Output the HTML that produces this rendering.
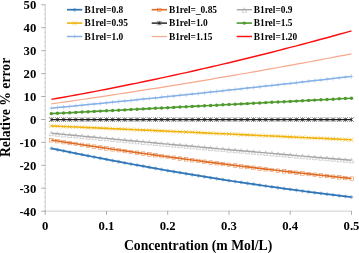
<!DOCTYPE html>
<html><head><meta charset="utf-8"><title>Relative % error vs Concentration</title>
<style>
html,body{margin:0;padding:0;background:#fff;}
svg{display:block}
text{font-family:"Liberation Serif","DejaVu Serif",serif;font-weight:bold;fill:#000}
.tk{font-size:12.7px}
.ti{font-size:13.7px}
.lg{font-size:9.4px}
</style></head><body>
<svg width="359" height="253" viewBox="0 0 359 253">
<rect width="359" height="253" fill="#fff"/>
<path d="M45.2 4.8V211.6M44.7 211.1H351.5" stroke="#cfcfcf" stroke-width="1" fill="none"/><path d="M41.2 4.8H45.6M41.2 27.7H45.6M41.2 50.7H45.6M41.2 73.6H45.6M41.2 96.5H45.6M41.2 119.5H45.6M41.2 142.4H45.6M41.2 165.3H45.6M41.2 188.2H45.6M41.2 211.2H45.6M45.2 210.8V214.9M106.5 210.8V214.9M167.7 210.8V214.9M229.0 210.8V214.9M290.2 210.8V214.9M351.5 210.8V214.9" stroke="#9c9c9c" stroke-width="0.8" fill="none"/><path d="M44.4 9.4H45.7M44.4 14.0H45.7M44.4 18.6H45.7M44.4 23.1H45.7M44.4 32.3H45.7M44.4 36.9H45.7M44.4 41.5H45.7M44.4 46.1H45.7M44.4 55.2H45.7M44.4 59.8H45.7M44.4 64.4H45.7M44.4 69.0H45.7M44.4 78.2H45.7M44.4 82.8H45.7M44.4 87.3H45.7M44.4 91.9H45.7M44.4 101.1H45.7M44.4 105.7H45.7M44.4 110.3H45.7M44.4 114.9H45.7M44.4 124.0H45.7M44.4 128.6H45.7M44.4 133.2H45.7M44.4 137.8H45.7M44.4 147.0H45.7M44.4 151.6H45.7M44.4 156.1H45.7M44.4 160.7H45.7M44.4 169.9H45.7M44.4 174.5H45.7M44.4 179.1H45.7M44.4 183.7H45.7M44.4 192.8H45.7M44.4 197.4H45.7M44.4 202.0H45.7M44.4 206.6H45.7" stroke="#bcbcbc" stroke-width="0.8" fill="none"/>
<polyline points="51.3,148.4 57.5,149.7 63.6,150.9 69.7,152.2 75.8,153.4 82.0,154.6 88.1,155.8 94.2,157.0 100.3,158.2 106.5,159.4 112.6,160.6 118.7,161.7 124.8,162.9 131.0,164.0 137.1,165.1 143.2,166.2 149.3,167.3 155.5,168.4 161.6,169.5 167.7,170.6 173.8,171.6 180.0,172.6 186.1,173.7 192.2,174.7 198.4,175.7 204.5,176.7 210.6,177.7 216.7,178.6 222.9,179.6 229.0,180.6 235.1,181.5 241.2,182.4 247.4,183.3 253.5,184.2 259.6,185.1 265.7,186.0 271.9,186.9 278.0,187.7 284.1,188.6 290.2,189.4 296.4,190.2 302.5,191.0 308.6,191.8 314.7,192.6 320.9,193.4 327.0,194.2 333.1,194.9 339.2,195.7 345.4,196.4 351.5,197.1" fill="none" stroke="#2f76b9" stroke-width="1.7" stroke-linejoin="round"/><path d="M49.1 148.4L51.3 146.2L53.5 148.4L51.3 150.6Z" fill="#2f76b9" fill-opacity="0.45"/><path d="M55.3 149.7L57.5 147.5L59.7 149.7L57.5 151.9Z" fill="#2f76b9" fill-opacity="0.45"/><path d="M61.4 150.9L63.6 148.7L65.8 150.9L63.6 153.1Z" fill="#2f76b9" fill-opacity="0.45"/><path d="M67.5 152.2L69.7 150.0L71.9 152.2L69.7 154.4Z" fill="#2f76b9" fill-opacity="0.45"/><path d="M73.6 153.4L75.8 151.2L78.0 153.4L75.8 155.6Z" fill="#2f76b9" fill-opacity="0.45"/><path d="M79.8 154.6L82.0 152.4L84.2 154.6L82.0 156.8Z" fill="#2f76b9" fill-opacity="0.45"/><path d="M85.9 155.8L88.1 153.6L90.3 155.8L88.1 158.0Z" fill="#2f76b9" fill-opacity="0.45"/><path d="M92.0 157.0L94.2 154.8L96.4 157.0L94.2 159.2Z" fill="#2f76b9" fill-opacity="0.45"/><path d="M98.1 158.2L100.3 156.0L102.5 158.2L100.3 160.4Z" fill="#2f76b9" fill-opacity="0.45"/><path d="M104.3 159.4L106.5 157.2L108.7 159.4L106.5 161.6Z" fill="#2f76b9" fill-opacity="0.45"/><path d="M110.4 160.6L112.6 158.4L114.8 160.6L112.6 162.8Z" fill="#2f76b9" fill-opacity="0.45"/><path d="M116.5 161.7L118.7 159.5L120.9 161.7L118.7 163.9Z" fill="#2f76b9" fill-opacity="0.45"/><path d="M122.6 162.9L124.8 160.7L127.0 162.9L124.8 165.1Z" fill="#2f76b9" fill-opacity="0.45"/><path d="M128.8 164.0L131.0 161.8L133.2 164.0L131.0 166.2Z" fill="#2f76b9" fill-opacity="0.45"/><path d="M134.9 165.1L137.1 162.9L139.3 165.1L137.1 167.3Z" fill="#2f76b9" fill-opacity="0.45"/><path d="M141.0 166.2L143.2 164.0L145.4 166.2L143.2 168.4Z" fill="#2f76b9" fill-opacity="0.45"/><path d="M147.1 167.3L149.3 165.1L151.5 167.3L149.3 169.5Z" fill="#2f76b9" fill-opacity="0.45"/><path d="M153.3 168.4L155.5 166.2L157.7 168.4L155.5 170.6Z" fill="#2f76b9" fill-opacity="0.45"/><path d="M159.4 169.5L161.6 167.3L163.8 169.5L161.6 171.7Z" fill="#2f76b9" fill-opacity="0.45"/><path d="M165.5 170.6L167.7 168.4L169.9 170.6L167.7 172.8Z" fill="#2f76b9" fill-opacity="0.45"/><path d="M171.6 171.6L173.8 169.4L176.0 171.6L173.8 173.8Z" fill="#2f76b9" fill-opacity="0.45"/><path d="M177.8 172.6L180.0 170.4L182.2 172.6L180.0 174.8Z" fill="#2f76b9" fill-opacity="0.45"/><path d="M183.9 173.7L186.1 171.5L188.3 173.7L186.1 175.9Z" fill="#2f76b9" fill-opacity="0.45"/><path d="M190.0 174.7L192.2 172.5L194.4 174.7L192.2 176.9Z" fill="#2f76b9" fill-opacity="0.45"/><path d="M196.2 175.7L198.4 173.5L200.6 175.7L198.4 177.9Z" fill="#2f76b9" fill-opacity="0.45"/><path d="M202.3 176.7L204.5 174.5L206.7 176.7L204.5 178.9Z" fill="#2f76b9" fill-opacity="0.45"/><path d="M208.4 177.7L210.6 175.5L212.8 177.7L210.6 179.9Z" fill="#2f76b9" fill-opacity="0.45"/><path d="M214.5 178.6L216.7 176.4L218.9 178.6L216.7 180.8Z" fill="#2f76b9" fill-opacity="0.45"/><path d="M220.7 179.6L222.9 177.4L225.1 179.6L222.9 181.8Z" fill="#2f76b9" fill-opacity="0.45"/><path d="M226.8 180.6L229.0 178.4L231.2 180.6L229.0 182.8Z" fill="#2f76b9" fill-opacity="0.45"/><path d="M232.9 181.5L235.1 179.3L237.3 181.5L235.1 183.7Z" fill="#2f76b9" fill-opacity="0.45"/><path d="M239.0 182.4L241.2 180.2L243.4 182.4L241.2 184.6Z" fill="#2f76b9" fill-opacity="0.45"/><path d="M245.2 183.3L247.4 181.1L249.6 183.3L247.4 185.5Z" fill="#2f76b9" fill-opacity="0.45"/><path d="M251.3 184.2L253.5 182.0L255.7 184.2L253.5 186.4Z" fill="#2f76b9" fill-opacity="0.45"/><path d="M257.4 185.1L259.6 182.9L261.8 185.1L259.6 187.3Z" fill="#2f76b9" fill-opacity="0.45"/><path d="M263.5 186.0L265.7 183.8L267.9 186.0L265.7 188.2Z" fill="#2f76b9" fill-opacity="0.45"/><path d="M269.7 186.9L271.9 184.7L274.1 186.9L271.9 189.1Z" fill="#2f76b9" fill-opacity="0.45"/><path d="M275.8 187.7L278.0 185.5L280.2 187.7L278.0 189.9Z" fill="#2f76b9" fill-opacity="0.45"/><path d="M281.9 188.6L284.1 186.4L286.3 188.6L284.1 190.8Z" fill="#2f76b9" fill-opacity="0.45"/><path d="M288.0 189.4L290.2 187.2L292.4 189.4L290.2 191.6Z" fill="#2f76b9" fill-opacity="0.45"/><path d="M294.2 190.2L296.4 188.0L298.6 190.2L296.4 192.4Z" fill="#2f76b9" fill-opacity="0.45"/><path d="M300.3 191.0L302.5 188.8L304.7 191.0L302.5 193.2Z" fill="#2f76b9" fill-opacity="0.45"/><path d="M306.4 191.8L308.6 189.6L310.8 191.8L308.6 194.0Z" fill="#2f76b9" fill-opacity="0.45"/><path d="M312.5 192.6L314.7 190.4L316.9 192.6L314.7 194.8Z" fill="#2f76b9" fill-opacity="0.45"/><path d="M318.7 193.4L320.9 191.2L323.1 193.4L320.9 195.6Z" fill="#2f76b9" fill-opacity="0.45"/><path d="M324.8 194.2L327.0 192.0L329.2 194.2L327.0 196.4Z" fill="#2f76b9" fill-opacity="0.45"/><path d="M330.9 194.9L333.1 192.7L335.3 194.9L333.1 197.1Z" fill="#2f76b9" fill-opacity="0.45"/><path d="M337.0 195.7L339.2 193.5L341.4 195.7L339.2 197.9Z" fill="#2f76b9" fill-opacity="0.45"/><path d="M343.2 196.4L345.4 194.2L347.6 196.4L345.4 198.6Z" fill="#2f76b9" fill-opacity="0.45"/><path d="M349.3 197.1L351.5 194.9L353.7 197.1L351.5 199.3Z" fill="#2f76b9" fill-opacity="0.45"/><rect x="49.6" y="138.5" width="3.5" height="3.5" fill="#fff" stroke="#e06c25" stroke-width="0.55" stroke-opacity="0.85"/><rect x="55.7" y="139.4" width="3.5" height="3.5" fill="#fff" stroke="#e06c25" stroke-width="0.55" stroke-opacity="0.85"/><rect x="61.8" y="140.4" width="3.5" height="3.5" fill="#fff" stroke="#e06c25" stroke-width="0.55" stroke-opacity="0.85"/><rect x="68.0" y="141.3" width="3.5" height="3.5" fill="#fff" stroke="#e06c25" stroke-width="0.55" stroke-opacity="0.85"/><rect x="74.1" y="142.2" width="3.5" height="3.5" fill="#fff" stroke="#e06c25" stroke-width="0.55" stroke-opacity="0.85"/><rect x="80.2" y="143.1" width="3.5" height="3.5" fill="#fff" stroke="#e06c25" stroke-width="0.55" stroke-opacity="0.85"/><rect x="86.3" y="144.0" width="3.5" height="3.5" fill="#fff" stroke="#e06c25" stroke-width="0.55" stroke-opacity="0.85"/><rect x="92.5" y="144.9" width="3.5" height="3.5" fill="#fff" stroke="#e06c25" stroke-width="0.55" stroke-opacity="0.85"/><rect x="98.6" y="145.8" width="3.5" height="3.5" fill="#fff" stroke="#e06c25" stroke-width="0.55" stroke-opacity="0.85"/><rect x="104.7" y="146.7" width="3.5" height="3.5" fill="#fff" stroke="#e06c25" stroke-width="0.55" stroke-opacity="0.85"/><rect x="110.8" y="147.6" width="3.5" height="3.5" fill="#fff" stroke="#e06c25" stroke-width="0.55" stroke-opacity="0.85"/><rect x="117.0" y="148.4" width="3.5" height="3.5" fill="#fff" stroke="#e06c25" stroke-width="0.55" stroke-opacity="0.85"/><rect x="123.1" y="149.3" width="3.5" height="3.5" fill="#fff" stroke="#e06c25" stroke-width="0.55" stroke-opacity="0.85"/><rect x="129.2" y="150.2" width="3.5" height="3.5" fill="#fff" stroke="#e06c25" stroke-width="0.55" stroke-opacity="0.85"/><rect x="135.3" y="151.0" width="3.5" height="3.5" fill="#fff" stroke="#e06c25" stroke-width="0.55" stroke-opacity="0.85"/><rect x="141.5" y="151.9" width="3.5" height="3.5" fill="#fff" stroke="#e06c25" stroke-width="0.55" stroke-opacity="0.85"/><rect x="147.6" y="152.7" width="3.5" height="3.5" fill="#fff" stroke="#e06c25" stroke-width="0.55" stroke-opacity="0.85"/><rect x="153.7" y="153.5" width="3.5" height="3.5" fill="#fff" stroke="#e06c25" stroke-width="0.55" stroke-opacity="0.85"/><rect x="159.8" y="154.4" width="3.5" height="3.5" fill="#fff" stroke="#e06c25" stroke-width="0.55" stroke-opacity="0.85"/><rect x="166.0" y="155.2" width="3.5" height="3.5" fill="#fff" stroke="#e06c25" stroke-width="0.55" stroke-opacity="0.85"/><rect x="172.1" y="156.0" width="3.5" height="3.5" fill="#fff" stroke="#e06c25" stroke-width="0.55" stroke-opacity="0.85"/><rect x="178.2" y="156.8" width="3.5" height="3.5" fill="#fff" stroke="#e06c25" stroke-width="0.55" stroke-opacity="0.85"/><rect x="184.3" y="157.6" width="3.5" height="3.5" fill="#fff" stroke="#e06c25" stroke-width="0.55" stroke-opacity="0.85"/><rect x="190.5" y="158.4" width="3.5" height="3.5" fill="#fff" stroke="#e06c25" stroke-width="0.55" stroke-opacity="0.85"/><rect x="196.6" y="159.2" width="3.5" height="3.5" fill="#fff" stroke="#e06c25" stroke-width="0.55" stroke-opacity="0.85"/><rect x="202.7" y="160.0" width="3.5" height="3.5" fill="#fff" stroke="#e06c25" stroke-width="0.55" stroke-opacity="0.85"/><rect x="208.9" y="160.8" width="3.5" height="3.5" fill="#fff" stroke="#e06c25" stroke-width="0.55" stroke-opacity="0.85"/><rect x="215.0" y="161.5" width="3.5" height="3.5" fill="#fff" stroke="#e06c25" stroke-width="0.55" stroke-opacity="0.85"/><rect x="221.1" y="162.3" width="3.5" height="3.5" fill="#fff" stroke="#e06c25" stroke-width="0.55" stroke-opacity="0.85"/><rect x="227.2" y="163.1" width="3.5" height="3.5" fill="#fff" stroke="#e06c25" stroke-width="0.55" stroke-opacity="0.85"/><rect x="233.4" y="163.8" width="3.5" height="3.5" fill="#fff" stroke="#e06c25" stroke-width="0.55" stroke-opacity="0.85"/><rect x="239.5" y="164.6" width="3.5" height="3.5" fill="#fff" stroke="#e06c25" stroke-width="0.55" stroke-opacity="0.85"/><rect x="245.6" y="165.3" width="3.5" height="3.5" fill="#fff" stroke="#e06c25" stroke-width="0.55" stroke-opacity="0.85"/><rect x="251.7" y="166.0" width="3.5" height="3.5" fill="#fff" stroke="#e06c25" stroke-width="0.55" stroke-opacity="0.85"/><rect x="257.9" y="166.8" width="3.5" height="3.5" fill="#fff" stroke="#e06c25" stroke-width="0.55" stroke-opacity="0.85"/><rect x="264.0" y="167.5" width="3.5" height="3.5" fill="#fff" stroke="#e06c25" stroke-width="0.55" stroke-opacity="0.85"/><rect x="270.1" y="168.2" width="3.5" height="3.5" fill="#fff" stroke="#e06c25" stroke-width="0.55" stroke-opacity="0.85"/><rect x="276.2" y="168.9" width="3.5" height="3.5" fill="#fff" stroke="#e06c25" stroke-width="0.55" stroke-opacity="0.85"/><rect x="282.4" y="169.6" width="3.5" height="3.5" fill="#fff" stroke="#e06c25" stroke-width="0.55" stroke-opacity="0.85"/><rect x="288.5" y="170.3" width="3.5" height="3.5" fill="#fff" stroke="#e06c25" stroke-width="0.55" stroke-opacity="0.85"/><rect x="294.6" y="171.0" width="3.5" height="3.5" fill="#fff" stroke="#e06c25" stroke-width="0.55" stroke-opacity="0.85"/><rect x="300.7" y="171.7" width="3.5" height="3.5" fill="#fff" stroke="#e06c25" stroke-width="0.55" stroke-opacity="0.85"/><rect x="306.9" y="172.3" width="3.5" height="3.5" fill="#fff" stroke="#e06c25" stroke-width="0.55" stroke-opacity="0.85"/><rect x="313.0" y="173.0" width="3.5" height="3.5" fill="#fff" stroke="#e06c25" stroke-width="0.55" stroke-opacity="0.85"/><rect x="319.1" y="173.7" width="3.5" height="3.5" fill="#fff" stroke="#e06c25" stroke-width="0.55" stroke-opacity="0.85"/><rect x="325.2" y="174.3" width="3.5" height="3.5" fill="#fff" stroke="#e06c25" stroke-width="0.55" stroke-opacity="0.85"/><rect x="331.4" y="175.0" width="3.5" height="3.5" fill="#fff" stroke="#e06c25" stroke-width="0.55" stroke-opacity="0.85"/><rect x="337.5" y="175.6" width="3.5" height="3.5" fill="#fff" stroke="#e06c25" stroke-width="0.55" stroke-opacity="0.85"/><rect x="343.6" y="176.3" width="3.5" height="3.5" fill="#fff" stroke="#e06c25" stroke-width="0.55" stroke-opacity="0.85"/><rect x="349.8" y="176.9" width="3.5" height="3.5" fill="#fff" stroke="#e06c25" stroke-width="0.55" stroke-opacity="0.85"/><polyline points="51.3,140.1 57.5,141.0 63.6,142.0 69.7,142.9 75.8,143.8 82.0,144.7 88.1,145.6 94.2,146.5 100.3,147.4 106.5,148.3 112.6,149.2 118.7,150.0 124.8,150.9 131.0,151.8 137.1,152.6 143.2,153.5 149.3,154.3 155.5,155.1 161.6,156.0 167.7,156.8 173.8,157.6 180.0,158.4 186.1,159.2 192.2,160.0 198.4,160.8 204.5,161.6 210.6,162.4 216.7,163.1 222.9,163.9 229.0,164.7 235.1,165.4 241.2,166.2 247.4,166.9 253.5,167.6 259.6,168.4 265.7,169.1 271.9,169.8 278.0,170.5 284.1,171.2 290.2,171.9 296.4,172.6 302.5,173.3 308.6,173.9 314.7,174.6 320.9,175.3 327.0,175.9 333.1,176.6 339.2,177.2 345.4,177.9 351.5,178.5" fill="none" stroke="#e06c25" stroke-width="1.65" stroke-linejoin="round"/><path d="M49.0 135.7L51.3 131.1L53.6 135.7Z" fill="#fff" stroke="#a6a6a6" stroke-width="0.55" stroke-opacity="0.85"/><path d="M55.2 136.3L57.5 131.7L59.8 136.3Z" fill="#fff" stroke="#a6a6a6" stroke-width="0.55" stroke-opacity="0.85"/><path d="M61.3 136.9L63.6 132.3L65.9 136.9Z" fill="#fff" stroke="#a6a6a6" stroke-width="0.55" stroke-opacity="0.85"/><path d="M67.4 137.5L69.7 132.9L72.0 137.5Z" fill="#fff" stroke="#a6a6a6" stroke-width="0.55" stroke-opacity="0.85"/><path d="M73.5 138.0L75.8 133.4L78.1 138.0Z" fill="#fff" stroke="#a6a6a6" stroke-width="0.55" stroke-opacity="0.85"/><path d="M79.7 138.6L82.0 134.0L84.3 138.6Z" fill="#fff" stroke="#a6a6a6" stroke-width="0.55" stroke-opacity="0.85"/><path d="M85.8 139.2L88.1 134.6L90.4 139.2Z" fill="#fff" stroke="#a6a6a6" stroke-width="0.55" stroke-opacity="0.85"/><path d="M91.9 139.8L94.2 135.2L96.5 139.8Z" fill="#fff" stroke="#a6a6a6" stroke-width="0.55" stroke-opacity="0.85"/><path d="M98.0 140.4L100.3 135.8L102.6 140.4Z" fill="#fff" stroke="#a6a6a6" stroke-width="0.55" stroke-opacity="0.85"/><path d="M104.2 140.9L106.5 136.3L108.8 140.9Z" fill="#fff" stroke="#a6a6a6" stroke-width="0.55" stroke-opacity="0.85"/><path d="M110.3 141.5L112.6 136.9L114.9 141.5Z" fill="#fff" stroke="#a6a6a6" stroke-width="0.55" stroke-opacity="0.85"/><path d="M116.4 142.1L118.7 137.5L121.0 142.1Z" fill="#fff" stroke="#a6a6a6" stroke-width="0.55" stroke-opacity="0.85"/><path d="M122.5 142.7L124.8 138.1L127.1 142.7Z" fill="#fff" stroke="#a6a6a6" stroke-width="0.55" stroke-opacity="0.85"/><path d="M128.7 143.2L131.0 138.6L133.3 143.2Z" fill="#fff" stroke="#a6a6a6" stroke-width="0.55" stroke-opacity="0.85"/><path d="M134.8 143.8L137.1 139.2L139.4 143.8Z" fill="#fff" stroke="#a6a6a6" stroke-width="0.55" stroke-opacity="0.85"/><path d="M140.9 144.4L143.2 139.8L145.5 144.4Z" fill="#fff" stroke="#a6a6a6" stroke-width="0.55" stroke-opacity="0.85"/><path d="M147.0 144.9L149.3 140.3L151.6 144.9Z" fill="#fff" stroke="#a6a6a6" stroke-width="0.55" stroke-opacity="0.85"/><path d="M153.2 145.5L155.5 140.9L157.8 145.5Z" fill="#fff" stroke="#a6a6a6" stroke-width="0.55" stroke-opacity="0.85"/><path d="M159.3 146.1L161.6 141.5L163.9 146.1Z" fill="#fff" stroke="#a6a6a6" stroke-width="0.55" stroke-opacity="0.85"/><path d="M165.4 146.6L167.7 142.0L170.0 146.6Z" fill="#fff" stroke="#a6a6a6" stroke-width="0.55" stroke-opacity="0.85"/><path d="M171.5 147.2L173.8 142.6L176.1 147.2Z" fill="#fff" stroke="#a6a6a6" stroke-width="0.55" stroke-opacity="0.85"/><path d="M177.7 147.7L180.0 143.1L182.3 147.7Z" fill="#fff" stroke="#a6a6a6" stroke-width="0.55" stroke-opacity="0.85"/><path d="M183.8 148.3L186.1 143.7L188.4 148.3Z" fill="#fff" stroke="#a6a6a6" stroke-width="0.55" stroke-opacity="0.85"/><path d="M189.9 148.8L192.2 144.2L194.5 148.8Z" fill="#fff" stroke="#a6a6a6" stroke-width="0.55" stroke-opacity="0.85"/><path d="M196.1 149.4L198.4 144.8L200.7 149.4Z" fill="#fff" stroke="#a6a6a6" stroke-width="0.55" stroke-opacity="0.85"/><path d="M202.2 150.0L204.5 145.4L206.8 150.0Z" fill="#fff" stroke="#a6a6a6" stroke-width="0.55" stroke-opacity="0.85"/><path d="M208.3 150.5L210.6 145.9L212.9 150.5Z" fill="#fff" stroke="#a6a6a6" stroke-width="0.55" stroke-opacity="0.85"/><path d="M214.4 151.1L216.7 146.5L219.0 151.1Z" fill="#fff" stroke="#a6a6a6" stroke-width="0.55" stroke-opacity="0.85"/><path d="M220.6 151.6L222.9 147.0L225.2 151.6Z" fill="#fff" stroke="#a6a6a6" stroke-width="0.55" stroke-opacity="0.85"/><path d="M226.7 152.2L229.0 147.6L231.3 152.2Z" fill="#fff" stroke="#a6a6a6" stroke-width="0.55" stroke-opacity="0.85"/><path d="M232.8 152.7L235.1 148.1L237.4 152.7Z" fill="#fff" stroke="#a6a6a6" stroke-width="0.55" stroke-opacity="0.85"/><path d="M238.9 153.2L241.2 148.6L243.5 153.2Z" fill="#fff" stroke="#a6a6a6" stroke-width="0.55" stroke-opacity="0.85"/><path d="M245.1 153.8L247.4 149.2L249.7 153.8Z" fill="#fff" stroke="#a6a6a6" stroke-width="0.55" stroke-opacity="0.85"/><path d="M251.2 154.3L253.5 149.7L255.8 154.3Z" fill="#fff" stroke="#a6a6a6" stroke-width="0.55" stroke-opacity="0.85"/><path d="M257.3 154.9L259.6 150.3L261.9 154.9Z" fill="#fff" stroke="#a6a6a6" stroke-width="0.55" stroke-opacity="0.85"/><path d="M263.4 155.4L265.7 150.8L268.0 155.4Z" fill="#fff" stroke="#a6a6a6" stroke-width="0.55" stroke-opacity="0.85"/><path d="M269.6 155.9L271.9 151.3L274.2 155.9Z" fill="#fff" stroke="#a6a6a6" stroke-width="0.55" stroke-opacity="0.85"/><path d="M275.7 156.5L278.0 151.9L280.3 156.5Z" fill="#fff" stroke="#a6a6a6" stroke-width="0.55" stroke-opacity="0.85"/><path d="M281.8 157.0L284.1 152.4L286.4 157.0Z" fill="#fff" stroke="#a6a6a6" stroke-width="0.55" stroke-opacity="0.85"/><path d="M287.9 157.5L290.2 152.9L292.5 157.5Z" fill="#fff" stroke="#a6a6a6" stroke-width="0.55" stroke-opacity="0.85"/><path d="M294.1 158.1L296.4 153.5L298.7 158.1Z" fill="#fff" stroke="#a6a6a6" stroke-width="0.55" stroke-opacity="0.85"/><path d="M300.2 158.6L302.5 154.0L304.8 158.6Z" fill="#fff" stroke="#a6a6a6" stroke-width="0.55" stroke-opacity="0.85"/><path d="M306.3 159.1L308.6 154.5L310.9 159.1Z" fill="#fff" stroke="#a6a6a6" stroke-width="0.55" stroke-opacity="0.85"/><path d="M312.4 159.7L314.7 155.1L317.0 159.7Z" fill="#fff" stroke="#a6a6a6" stroke-width="0.55" stroke-opacity="0.85"/><path d="M318.6 160.2L320.9 155.6L323.2 160.2Z" fill="#fff" stroke="#a6a6a6" stroke-width="0.55" stroke-opacity="0.85"/><path d="M324.7 160.7L327.0 156.1L329.3 160.7Z" fill="#fff" stroke="#a6a6a6" stroke-width="0.55" stroke-opacity="0.85"/><path d="M330.8 161.2L333.1 156.6L335.4 161.2Z" fill="#fff" stroke="#a6a6a6" stroke-width="0.55" stroke-opacity="0.85"/><path d="M336.9 161.8L339.2 157.2L341.5 161.8Z" fill="#fff" stroke="#a6a6a6" stroke-width="0.55" stroke-opacity="0.85"/><path d="M343.1 162.3L345.4 157.7L347.7 162.3Z" fill="#fff" stroke="#a6a6a6" stroke-width="0.55" stroke-opacity="0.85"/><path d="M349.2 162.8L351.5 158.2L353.8 162.8Z" fill="#fff" stroke="#a6a6a6" stroke-width="0.55" stroke-opacity="0.85"/><polyline points="51.3,133.2 57.5,133.8 63.6,134.4 69.7,135.0 75.8,135.5 82.0,136.1 88.1,136.7 94.2,137.3 100.3,137.9 106.5,138.4 112.6,139.0 118.7,139.6 124.8,140.2 131.0,140.7 137.1,141.3 143.2,141.9 149.3,142.4 155.5,143.0 161.6,143.6 167.7,144.1 173.8,144.7 180.0,145.2 186.1,145.8 192.2,146.3 198.4,146.9 204.5,147.5 210.6,148.0 216.7,148.6 222.9,149.1 229.0,149.7 235.1,150.2 241.2,150.7 247.4,151.3 253.5,151.8 259.6,152.4 265.7,152.9 271.9,153.4 278.0,154.0 284.1,154.5 290.2,155.0 296.4,155.6 302.5,156.1 308.6,156.6 314.7,157.2 320.9,157.7 327.0,158.2 333.1,158.7 339.2,159.3 345.4,159.8 351.5,160.3" fill="none" stroke="#a6a6a6" stroke-width="1.4" stroke-linejoin="round"/><polyline points="51.3,125.9 57.5,126.2 63.6,126.5 69.7,126.7 75.8,127.0 82.0,127.3 88.1,127.6 94.2,127.8 100.3,128.1 106.5,128.4 112.6,128.7 118.7,128.9 124.8,129.2 131.0,129.5 137.1,129.8 143.2,130.1 149.3,130.3 155.5,130.6 161.6,130.9 167.7,131.2 173.8,131.5 180.0,131.8 186.1,132.0 192.2,132.3 198.4,132.6 204.5,132.9 210.6,133.2 216.7,133.5 222.9,133.7 229.0,134.0 235.1,134.3 241.2,134.6 247.4,134.9 253.5,135.2 259.6,135.5 265.7,135.7 271.9,136.0 278.0,136.3 284.1,136.6 290.2,136.9 296.4,137.2 302.5,137.5 308.6,137.8 314.7,138.1 320.9,138.3 327.0,138.6 333.1,138.9 339.2,139.2 345.4,139.5 351.5,139.8" fill="none" stroke="#f0b30f" stroke-width="1.6" stroke-linejoin="round"/><path d="M49.2 123.8L53.4 128.0M49.2 128.0L53.4 123.8" stroke="#f0b30f" stroke-width="0.65" fill="none"/><path d="M55.4 124.1L59.6 128.3M55.4 128.3L59.6 124.1" stroke="#f0b30f" stroke-width="0.65" fill="none"/><path d="M61.5 124.4L65.7 128.6M61.5 128.6L65.7 124.4" stroke="#f0b30f" stroke-width="0.65" fill="none"/><path d="M67.6 124.6L71.8 128.8M67.6 128.8L71.8 124.6" stroke="#f0b30f" stroke-width="0.65" fill="none"/><path d="M73.7 124.9L77.9 129.1M73.7 129.1L77.9 124.9" stroke="#f0b30f" stroke-width="0.65" fill="none"/><path d="M79.9 125.2L84.1 129.4M79.9 129.4L84.1 125.2" stroke="#f0b30f" stroke-width="0.65" fill="none"/><path d="M86.0 125.5L90.2 129.7M86.0 129.7L90.2 125.5" stroke="#f0b30f" stroke-width="0.65" fill="none"/><path d="M92.1 125.7L96.3 129.9M92.1 129.9L96.3 125.7" stroke="#f0b30f" stroke-width="0.65" fill="none"/><path d="M98.2 126.0L102.4 130.2M98.2 130.2L102.4 126.0" stroke="#f0b30f" stroke-width="0.65" fill="none"/><path d="M104.4 126.3L108.6 130.5M104.4 130.5L108.6 126.3" stroke="#f0b30f" stroke-width="0.65" fill="none"/><path d="M110.5 126.6L114.7 130.8M110.5 130.8L114.7 126.6" stroke="#f0b30f" stroke-width="0.65" fill="none"/><path d="M116.6 126.8L120.8 131.0M116.6 131.0L120.8 126.8" stroke="#f0b30f" stroke-width="0.65" fill="none"/><path d="M122.7 127.1L126.9 131.3M122.7 131.3L126.9 127.1" stroke="#f0b30f" stroke-width="0.65" fill="none"/><path d="M128.9 127.4L133.1 131.6M128.9 131.6L133.1 127.4" stroke="#f0b30f" stroke-width="0.65" fill="none"/><path d="M135.0 127.7L139.2 131.9M135.0 131.9L139.2 127.7" stroke="#f0b30f" stroke-width="0.65" fill="none"/><path d="M141.1 128.0L145.3 132.2M141.1 132.2L145.3 128.0" stroke="#f0b30f" stroke-width="0.65" fill="none"/><path d="M147.2 128.2L151.4 132.4M147.2 132.4L151.4 128.2" stroke="#f0b30f" stroke-width="0.65" fill="none"/><path d="M153.4 128.5L157.6 132.7M153.4 132.7L157.6 128.5" stroke="#f0b30f" stroke-width="0.65" fill="none"/><path d="M159.5 128.8L163.7 133.0M159.5 133.0L163.7 128.8" stroke="#f0b30f" stroke-width="0.65" fill="none"/><path d="M165.6 129.1L169.8 133.3M165.6 133.3L169.8 129.1" stroke="#f0b30f" stroke-width="0.65" fill="none"/><path d="M171.7 129.4L175.9 133.6M171.7 133.6L175.9 129.4" stroke="#f0b30f" stroke-width="0.65" fill="none"/><path d="M177.9 129.7L182.1 133.9M177.9 133.9L182.1 129.7" stroke="#f0b30f" stroke-width="0.65" fill="none"/><path d="M184.0 129.9L188.2 134.1M184.0 134.1L188.2 129.9" stroke="#f0b30f" stroke-width="0.65" fill="none"/><path d="M190.1 130.2L194.3 134.4M190.1 134.4L194.3 130.2" stroke="#f0b30f" stroke-width="0.65" fill="none"/><path d="M196.3 130.5L200.5 134.7M196.3 134.7L200.5 130.5" stroke="#f0b30f" stroke-width="0.65" fill="none"/><path d="M202.4 130.8L206.6 135.0M202.4 135.0L206.6 130.8" stroke="#f0b30f" stroke-width="0.65" fill="none"/><path d="M208.5 131.1L212.7 135.3M208.5 135.3L212.7 131.1" stroke="#f0b30f" stroke-width="0.65" fill="none"/><path d="M214.6 131.4L218.8 135.6M214.6 135.6L218.8 131.4" stroke="#f0b30f" stroke-width="0.65" fill="none"/><path d="M220.8 131.6L225.0 135.8M220.8 135.8L225.0 131.6" stroke="#f0b30f" stroke-width="0.65" fill="none"/><path d="M226.9 131.9L231.1 136.1M226.9 136.1L231.1 131.9" stroke="#f0b30f" stroke-width="0.65" fill="none"/><path d="M233.0 132.2L237.2 136.4M233.0 136.4L237.2 132.2" stroke="#f0b30f" stroke-width="0.65" fill="none"/><path d="M239.1 132.5L243.3 136.7M239.1 136.7L243.3 132.5" stroke="#f0b30f" stroke-width="0.65" fill="none"/><path d="M245.3 132.8L249.5 137.0M245.3 137.0L249.5 132.8" stroke="#f0b30f" stroke-width="0.65" fill="none"/><path d="M251.4 133.1L255.6 137.3M251.4 137.3L255.6 133.1" stroke="#f0b30f" stroke-width="0.65" fill="none"/><path d="M257.5 133.4L261.7 137.6M257.5 137.6L261.7 133.4" stroke="#f0b30f" stroke-width="0.65" fill="none"/><path d="M263.6 133.6L267.8 137.8M263.6 137.8L267.8 133.6" stroke="#f0b30f" stroke-width="0.65" fill="none"/><path d="M269.8 133.9L274.0 138.1M269.8 138.1L274.0 133.9" stroke="#f0b30f" stroke-width="0.65" fill="none"/><path d="M275.9 134.2L280.1 138.4M275.9 138.4L280.1 134.2" stroke="#f0b30f" stroke-width="0.65" fill="none"/><path d="M282.0 134.5L286.2 138.7M282.0 138.7L286.2 134.5" stroke="#f0b30f" stroke-width="0.65" fill="none"/><path d="M288.1 134.8L292.3 139.0M288.1 139.0L292.3 134.8" stroke="#f0b30f" stroke-width="0.65" fill="none"/><path d="M294.3 135.1L298.5 139.3M294.3 139.3L298.5 135.1" stroke="#f0b30f" stroke-width="0.65" fill="none"/><path d="M300.4 135.4L304.6 139.6M300.4 139.6L304.6 135.4" stroke="#f0b30f" stroke-width="0.65" fill="none"/><path d="M306.5 135.7L310.7 139.9M306.5 139.9L310.7 135.7" stroke="#f0b30f" stroke-width="0.65" fill="none"/><path d="M312.6 136.0L316.8 140.2M312.6 140.2L316.8 136.0" stroke="#f0b30f" stroke-width="0.65" fill="none"/><path d="M318.8 136.2L323.0 140.4M318.8 140.4L323.0 136.2" stroke="#f0b30f" stroke-width="0.65" fill="none"/><path d="M324.9 136.5L329.1 140.7M324.9 140.7L329.1 136.5" stroke="#f0b30f" stroke-width="0.65" fill="none"/><path d="M331.0 136.8L335.2 141.0M331.0 141.0L335.2 136.8" stroke="#f0b30f" stroke-width="0.65" fill="none"/><path d="M337.1 137.1L341.3 141.3M337.1 141.3L341.3 137.1" stroke="#f0b30f" stroke-width="0.65" fill="none"/><path d="M343.3 137.4L347.5 141.6M343.3 141.6L347.5 137.4" stroke="#f0b30f" stroke-width="0.65" fill="none"/><path d="M349.4 137.7L353.6 141.9M349.4 141.9L353.6 137.7" stroke="#f0b30f" stroke-width="0.65" fill="none"/><polyline points="51.3,119.6 57.5,119.6 63.6,119.6 69.7,119.6 75.8,119.6 82.0,119.6 88.1,119.6 94.2,119.6 100.3,119.6 106.5,119.6 112.6,119.6 118.7,119.6 124.8,119.6 131.0,119.6 137.1,119.6 143.2,119.6 149.3,119.6 155.5,119.6 161.6,119.6 167.7,119.6 173.8,119.6 180.0,119.6 186.1,119.6 192.2,119.6 198.4,119.6 204.5,119.6 210.6,119.6 216.7,119.6 222.9,119.6 229.0,119.6 235.1,119.6 241.2,119.6 247.4,119.6 253.5,119.6 259.6,119.6 265.7,119.6 271.9,119.6 278.0,119.6 284.1,119.6 290.2,119.6 296.4,119.6 302.5,119.6 308.6,119.6 314.7,119.6 320.9,119.6 327.0,119.6 333.1,119.6 339.2,119.6 345.4,119.6 351.5,119.6" fill="none" stroke="#1a1a1a" stroke-width="1.4" stroke-linejoin="round"/><path d="M49.1 117.4L53.5 121.8M49.1 121.8L53.5 117.4M51.3 117.4L51.3 121.8" stroke="#1a1a1a" stroke-width="0.65" fill="none"/><path d="M55.3 117.4L59.7 121.8M55.3 121.8L59.7 117.4M57.5 117.4L57.5 121.8" stroke="#1a1a1a" stroke-width="0.65" fill="none"/><path d="M61.4 117.4L65.8 121.8M61.4 121.8L65.8 117.4M63.6 117.4L63.6 121.8" stroke="#1a1a1a" stroke-width="0.65" fill="none"/><path d="M67.5 117.4L71.9 121.8M67.5 121.8L71.9 117.4M69.7 117.4L69.7 121.8" stroke="#1a1a1a" stroke-width="0.65" fill="none"/><path d="M73.6 117.4L78.0 121.8M73.6 121.8L78.0 117.4M75.8 117.4L75.8 121.8" stroke="#1a1a1a" stroke-width="0.65" fill="none"/><path d="M79.8 117.4L84.2 121.8M79.8 121.8L84.2 117.4M82.0 117.4L82.0 121.8" stroke="#1a1a1a" stroke-width="0.65" fill="none"/><path d="M85.9 117.4L90.3 121.8M85.9 121.8L90.3 117.4M88.1 117.4L88.1 121.8" stroke="#1a1a1a" stroke-width="0.65" fill="none"/><path d="M92.0 117.4L96.4 121.8M92.0 121.8L96.4 117.4M94.2 117.4L94.2 121.8" stroke="#1a1a1a" stroke-width="0.65" fill="none"/><path d="M98.1 117.4L102.5 121.8M98.1 121.8L102.5 117.4M100.3 117.4L100.3 121.8" stroke="#1a1a1a" stroke-width="0.65" fill="none"/><path d="M104.3 117.4L108.7 121.8M104.3 121.8L108.7 117.4M106.5 117.4L106.5 121.8" stroke="#1a1a1a" stroke-width="0.65" fill="none"/><path d="M110.4 117.4L114.8 121.8M110.4 121.8L114.8 117.4M112.6 117.4L112.6 121.8" stroke="#1a1a1a" stroke-width="0.65" fill="none"/><path d="M116.5 117.4L120.9 121.8M116.5 121.8L120.9 117.4M118.7 117.4L118.7 121.8" stroke="#1a1a1a" stroke-width="0.65" fill="none"/><path d="M122.6 117.4L127.0 121.8M122.6 121.8L127.0 117.4M124.8 117.4L124.8 121.8" stroke="#1a1a1a" stroke-width="0.65" fill="none"/><path d="M128.8 117.4L133.2 121.8M128.8 121.8L133.2 117.4M131.0 117.4L131.0 121.8" stroke="#1a1a1a" stroke-width="0.65" fill="none"/><path d="M134.9 117.4L139.3 121.8M134.9 121.8L139.3 117.4M137.1 117.4L137.1 121.8" stroke="#1a1a1a" stroke-width="0.65" fill="none"/><path d="M141.0 117.4L145.4 121.8M141.0 121.8L145.4 117.4M143.2 117.4L143.2 121.8" stroke="#1a1a1a" stroke-width="0.65" fill="none"/><path d="M147.1 117.4L151.5 121.8M147.1 121.8L151.5 117.4M149.3 117.4L149.3 121.8" stroke="#1a1a1a" stroke-width="0.65" fill="none"/><path d="M153.3 117.4L157.7 121.8M153.3 121.8L157.7 117.4M155.5 117.4L155.5 121.8" stroke="#1a1a1a" stroke-width="0.65" fill="none"/><path d="M159.4 117.4L163.8 121.8M159.4 121.8L163.8 117.4M161.6 117.4L161.6 121.8" stroke="#1a1a1a" stroke-width="0.65" fill="none"/><path d="M165.5 117.4L169.9 121.8M165.5 121.8L169.9 117.4M167.7 117.4L167.7 121.8" stroke="#1a1a1a" stroke-width="0.65" fill="none"/><path d="M171.6 117.4L176.0 121.8M171.6 121.8L176.0 117.4M173.8 117.4L173.8 121.8" stroke="#1a1a1a" stroke-width="0.65" fill="none"/><path d="M177.8 117.4L182.2 121.8M177.8 121.8L182.2 117.4M180.0 117.4L180.0 121.8" stroke="#1a1a1a" stroke-width="0.65" fill="none"/><path d="M183.9 117.4L188.3 121.8M183.9 121.8L188.3 117.4M186.1 117.4L186.1 121.8" stroke="#1a1a1a" stroke-width="0.65" fill="none"/><path d="M190.0 117.4L194.4 121.8M190.0 121.8L194.4 117.4M192.2 117.4L192.2 121.8" stroke="#1a1a1a" stroke-width="0.65" fill="none"/><path d="M196.2 117.4L200.6 121.8M196.2 121.8L200.6 117.4M198.4 117.4L198.4 121.8" stroke="#1a1a1a" stroke-width="0.65" fill="none"/><path d="M202.3 117.4L206.7 121.8M202.3 121.8L206.7 117.4M204.5 117.4L204.5 121.8" stroke="#1a1a1a" stroke-width="0.65" fill="none"/><path d="M208.4 117.4L212.8 121.8M208.4 121.8L212.8 117.4M210.6 117.4L210.6 121.8" stroke="#1a1a1a" stroke-width="0.65" fill="none"/><path d="M214.5 117.4L218.9 121.8M214.5 121.8L218.9 117.4M216.7 117.4L216.7 121.8" stroke="#1a1a1a" stroke-width="0.65" fill="none"/><path d="M220.7 117.4L225.1 121.8M220.7 121.8L225.1 117.4M222.9 117.4L222.9 121.8" stroke="#1a1a1a" stroke-width="0.65" fill="none"/><path d="M226.8 117.4L231.2 121.8M226.8 121.8L231.2 117.4M229.0 117.4L229.0 121.8" stroke="#1a1a1a" stroke-width="0.65" fill="none"/><path d="M232.9 117.4L237.3 121.8M232.9 121.8L237.3 117.4M235.1 117.4L235.1 121.8" stroke="#1a1a1a" stroke-width="0.65" fill="none"/><path d="M239.0 117.4L243.4 121.8M239.0 121.8L243.4 117.4M241.2 117.4L241.2 121.8" stroke="#1a1a1a" stroke-width="0.65" fill="none"/><path d="M245.2 117.4L249.6 121.8M245.2 121.8L249.6 117.4M247.4 117.4L247.4 121.8" stroke="#1a1a1a" stroke-width="0.65" fill="none"/><path d="M251.3 117.4L255.7 121.8M251.3 121.8L255.7 117.4M253.5 117.4L253.5 121.8" stroke="#1a1a1a" stroke-width="0.65" fill="none"/><path d="M257.4 117.4L261.8 121.8M257.4 121.8L261.8 117.4M259.6 117.4L259.6 121.8" stroke="#1a1a1a" stroke-width="0.65" fill="none"/><path d="M263.5 117.4L267.9 121.8M263.5 121.8L267.9 117.4M265.7 117.4L265.7 121.8" stroke="#1a1a1a" stroke-width="0.65" fill="none"/><path d="M269.7 117.4L274.1 121.8M269.7 121.8L274.1 117.4M271.9 117.4L271.9 121.8" stroke="#1a1a1a" stroke-width="0.65" fill="none"/><path d="M275.8 117.4L280.2 121.8M275.8 121.8L280.2 117.4M278.0 117.4L278.0 121.8" stroke="#1a1a1a" stroke-width="0.65" fill="none"/><path d="M281.9 117.4L286.3 121.8M281.9 121.8L286.3 117.4M284.1 117.4L284.1 121.8" stroke="#1a1a1a" stroke-width="0.65" fill="none"/><path d="M288.0 117.4L292.4 121.8M288.0 121.8L292.4 117.4M290.2 117.4L290.2 121.8" stroke="#1a1a1a" stroke-width="0.65" fill="none"/><path d="M294.2 117.4L298.6 121.8M294.2 121.8L298.6 117.4M296.4 117.4L296.4 121.8" stroke="#1a1a1a" stroke-width="0.65" fill="none"/><path d="M300.3 117.4L304.7 121.8M300.3 121.8L304.7 117.4M302.5 117.4L302.5 121.8" stroke="#1a1a1a" stroke-width="0.65" fill="none"/><path d="M306.4 117.4L310.8 121.8M306.4 121.8L310.8 117.4M308.6 117.4L308.6 121.8" stroke="#1a1a1a" stroke-width="0.65" fill="none"/><path d="M312.5 117.4L316.9 121.8M312.5 121.8L316.9 117.4M314.7 117.4L314.7 121.8" stroke="#1a1a1a" stroke-width="0.65" fill="none"/><path d="M318.7 117.4L323.1 121.8M318.7 121.8L323.1 117.4M320.9 117.4L320.9 121.8" stroke="#1a1a1a" stroke-width="0.65" fill="none"/><path d="M324.8 117.4L329.2 121.8M324.8 121.8L329.2 117.4M327.0 117.4L327.0 121.8" stroke="#1a1a1a" stroke-width="0.65" fill="none"/><path d="M330.9 117.4L335.3 121.8M330.9 121.8L335.3 117.4M333.1 117.4L333.1 121.8" stroke="#1a1a1a" stroke-width="0.65" fill="none"/><path d="M337.0 117.4L341.4 121.8M337.0 121.8L341.4 117.4M339.2 117.4L339.2 121.8" stroke="#1a1a1a" stroke-width="0.65" fill="none"/><path d="M343.2 117.4L347.6 121.8M343.2 121.8L347.6 117.4M345.4 117.4L345.4 121.8" stroke="#1a1a1a" stroke-width="0.65" fill="none"/><path d="M349.3 117.4L353.7 121.8M349.3 121.8L353.7 117.4M351.5 117.4L351.5 121.8" stroke="#1a1a1a" stroke-width="0.65" fill="none"/><polyline points="51.3,113.6 57.5,113.3 63.6,113.0 69.7,112.7 75.8,112.4 82.0,112.0 88.1,111.7 94.2,111.4 100.3,111.1 106.5,110.8 112.6,110.5 118.7,110.2 124.8,109.9 131.0,109.5 137.1,109.2 143.2,108.9 149.3,108.6 155.5,108.3 161.6,108.0 167.7,107.7 173.8,107.4 180.0,107.0 186.1,106.7 192.2,106.4 198.4,106.1 204.5,105.8 210.6,105.5 216.7,105.2 222.9,104.8 229.0,104.5 235.1,104.2 241.2,103.9 247.4,103.6 253.5,103.3 259.6,103.0 265.7,102.6 271.9,102.3 278.0,102.0 284.1,101.7 290.2,101.4 296.4,101.1 302.5,100.7 308.6,100.4 314.7,100.1 320.9,99.8 327.0,99.5 333.1,99.2 339.2,98.8 345.4,98.5 351.5,98.2" fill="none" stroke="#4f9a2f" stroke-width="1.6" stroke-linejoin="round"/><circle cx="51.3" cy="113.6" r="1.7" fill="#4f9a2f"/><circle cx="57.5" cy="113.3" r="1.7" fill="#4f9a2f"/><circle cx="63.6" cy="113.0" r="1.7" fill="#4f9a2f"/><circle cx="69.7" cy="112.7" r="1.7" fill="#4f9a2f"/><circle cx="75.8" cy="112.4" r="1.7" fill="#4f9a2f"/><circle cx="82.0" cy="112.0" r="1.7" fill="#4f9a2f"/><circle cx="88.1" cy="111.7" r="1.7" fill="#4f9a2f"/><circle cx="94.2" cy="111.4" r="1.7" fill="#4f9a2f"/><circle cx="100.3" cy="111.1" r="1.7" fill="#4f9a2f"/><circle cx="106.5" cy="110.8" r="1.7" fill="#4f9a2f"/><circle cx="112.6" cy="110.5" r="1.7" fill="#4f9a2f"/><circle cx="118.7" cy="110.2" r="1.7" fill="#4f9a2f"/><circle cx="124.8" cy="109.9" r="1.7" fill="#4f9a2f"/><circle cx="131.0" cy="109.5" r="1.7" fill="#4f9a2f"/><circle cx="137.1" cy="109.2" r="1.7" fill="#4f9a2f"/><circle cx="143.2" cy="108.9" r="1.7" fill="#4f9a2f"/><circle cx="149.3" cy="108.6" r="1.7" fill="#4f9a2f"/><circle cx="155.5" cy="108.3" r="1.7" fill="#4f9a2f"/><circle cx="161.6" cy="108.0" r="1.7" fill="#4f9a2f"/><circle cx="167.7" cy="107.7" r="1.7" fill="#4f9a2f"/><circle cx="173.8" cy="107.4" r="1.7" fill="#4f9a2f"/><circle cx="180.0" cy="107.0" r="1.7" fill="#4f9a2f"/><circle cx="186.1" cy="106.7" r="1.7" fill="#4f9a2f"/><circle cx="192.2" cy="106.4" r="1.7" fill="#4f9a2f"/><circle cx="198.4" cy="106.1" r="1.7" fill="#4f9a2f"/><circle cx="204.5" cy="105.8" r="1.7" fill="#4f9a2f"/><circle cx="210.6" cy="105.5" r="1.7" fill="#4f9a2f"/><circle cx="216.7" cy="105.2" r="1.7" fill="#4f9a2f"/><circle cx="222.9" cy="104.8" r="1.7" fill="#4f9a2f"/><circle cx="229.0" cy="104.5" r="1.7" fill="#4f9a2f"/><circle cx="235.1" cy="104.2" r="1.7" fill="#4f9a2f"/><circle cx="241.2" cy="103.9" r="1.7" fill="#4f9a2f"/><circle cx="247.4" cy="103.6" r="1.7" fill="#4f9a2f"/><circle cx="253.5" cy="103.3" r="1.7" fill="#4f9a2f"/><circle cx="259.6" cy="103.0" r="1.7" fill="#4f9a2f"/><circle cx="265.7" cy="102.6" r="1.7" fill="#4f9a2f"/><circle cx="271.9" cy="102.3" r="1.7" fill="#4f9a2f"/><circle cx="278.0" cy="102.0" r="1.7" fill="#4f9a2f"/><circle cx="284.1" cy="101.7" r="1.7" fill="#4f9a2f"/><circle cx="290.2" cy="101.4" r="1.7" fill="#4f9a2f"/><circle cx="296.4" cy="101.1" r="1.7" fill="#4f9a2f"/><circle cx="302.5" cy="100.7" r="1.7" fill="#4f9a2f"/><circle cx="308.6" cy="100.4" r="1.7" fill="#4f9a2f"/><circle cx="314.7" cy="100.1" r="1.7" fill="#4f9a2f"/><circle cx="320.9" cy="99.8" r="1.7" fill="#4f9a2f"/><circle cx="327.0" cy="99.5" r="1.7" fill="#4f9a2f"/><circle cx="333.1" cy="99.2" r="1.7" fill="#4f9a2f"/><circle cx="339.2" cy="98.8" r="1.7" fill="#4f9a2f"/><circle cx="345.4" cy="98.5" r="1.7" fill="#4f9a2f"/><circle cx="351.5" cy="98.2" r="1.7" fill="#4f9a2f"/><polyline points="51.3,108.2 57.5,107.6 63.6,107.0 69.7,106.4 75.8,105.8 82.0,105.2 88.1,104.6 94.2,104.0 100.3,103.4 106.5,102.8 112.6,102.2 118.7,101.6 124.8,101.0 131.0,100.4 137.1,99.7 143.2,99.1 149.3,98.5 155.5,97.9 161.6,97.2 167.7,96.6 173.8,96.0 180.0,95.3 186.1,94.7 192.2,94.0 198.4,93.4 204.5,92.8 210.6,92.1 216.7,91.4 222.9,90.8 229.0,90.1 235.1,89.5 241.2,88.8 247.4,88.1 253.5,87.5 259.6,86.8 265.7,86.1 271.9,85.4 278.0,84.8 284.1,84.1 290.2,83.4 296.4,82.7 302.5,82.0 308.6,81.3 314.7,80.6 320.9,79.9 327.0,79.2 333.1,78.5 339.2,77.8 345.4,77.1 351.5,76.4" fill="none" stroke="#86b0e6" stroke-width="1.5" stroke-linejoin="round"/><path d="M49.0 108.2L53.6 108.2M51.3 105.9L51.3 110.5" stroke="#86b0e6" stroke-width="0.45" fill="none"/><path d="M55.2 107.6L59.8 107.6M57.5 105.3L57.5 109.9" stroke="#86b0e6" stroke-width="0.45" fill="none"/><path d="M61.3 107.0L65.9 107.0M63.6 104.7L63.6 109.3" stroke="#86b0e6" stroke-width="0.45" fill="none"/><path d="M67.4 106.4L72.0 106.4M69.7 104.1L69.7 108.7" stroke="#86b0e6" stroke-width="0.45" fill="none"/><path d="M73.5 105.8L78.1 105.8M75.8 103.5L75.8 108.1" stroke="#86b0e6" stroke-width="0.45" fill="none"/><path d="M79.7 105.2L84.3 105.2M82.0 102.9L82.0 107.5" stroke="#86b0e6" stroke-width="0.45" fill="none"/><path d="M85.8 104.6L90.4 104.6M88.1 102.3L88.1 106.9" stroke="#86b0e6" stroke-width="0.45" fill="none"/><path d="M91.9 104.0L96.5 104.0M94.2 101.7L94.2 106.3" stroke="#86b0e6" stroke-width="0.45" fill="none"/><path d="M98.0 103.4L102.6 103.4M100.3 101.1L100.3 105.7" stroke="#86b0e6" stroke-width="0.45" fill="none"/><path d="M104.2 102.8L108.8 102.8M106.5 100.5L106.5 105.1" stroke="#86b0e6" stroke-width="0.45" fill="none"/><path d="M110.3 102.2L114.9 102.2M112.6 99.9L112.6 104.5" stroke="#86b0e6" stroke-width="0.45" fill="none"/><path d="M116.4 101.6L121.0 101.6M118.7 99.3L118.7 103.9" stroke="#86b0e6" stroke-width="0.45" fill="none"/><path d="M122.5 101.0L127.1 101.0M124.8 98.7L124.8 103.3" stroke="#86b0e6" stroke-width="0.45" fill="none"/><path d="M128.7 100.4L133.3 100.4M131.0 98.1L131.0 102.7" stroke="#86b0e6" stroke-width="0.45" fill="none"/><path d="M134.8 99.7L139.4 99.7M137.1 97.4L137.1 102.0" stroke="#86b0e6" stroke-width="0.45" fill="none"/><path d="M140.9 99.1L145.5 99.1M143.2 96.8L143.2 101.4" stroke="#86b0e6" stroke-width="0.45" fill="none"/><path d="M147.0 98.5L151.6 98.5M149.3 96.2L149.3 100.8" stroke="#86b0e6" stroke-width="0.45" fill="none"/><path d="M153.2 97.9L157.8 97.9M155.5 95.6L155.5 100.2" stroke="#86b0e6" stroke-width="0.45" fill="none"/><path d="M159.3 97.2L163.9 97.2M161.6 94.9L161.6 99.5" stroke="#86b0e6" stroke-width="0.45" fill="none"/><path d="M165.4 96.6L170.0 96.6M167.7 94.3L167.7 98.9" stroke="#86b0e6" stroke-width="0.45" fill="none"/><path d="M171.5 96.0L176.1 96.0M173.8 93.7L173.8 98.3" stroke="#86b0e6" stroke-width="0.45" fill="none"/><path d="M177.7 95.3L182.3 95.3M180.0 93.0L180.0 97.6" stroke="#86b0e6" stroke-width="0.45" fill="none"/><path d="M183.8 94.7L188.4 94.7M186.1 92.4L186.1 97.0" stroke="#86b0e6" stroke-width="0.45" fill="none"/><path d="M189.9 94.0L194.5 94.0M192.2 91.7L192.2 96.3" stroke="#86b0e6" stroke-width="0.45" fill="none"/><path d="M196.1 93.4L200.7 93.4M198.4 91.1L198.4 95.7" stroke="#86b0e6" stroke-width="0.45" fill="none"/><path d="M202.2 92.8L206.8 92.8M204.5 90.5L204.5 95.1" stroke="#86b0e6" stroke-width="0.45" fill="none"/><path d="M208.3 92.1L212.9 92.1M210.6 89.8L210.6 94.4" stroke="#86b0e6" stroke-width="0.45" fill="none"/><path d="M214.4 91.4L219.0 91.4M216.7 89.1L216.7 93.7" stroke="#86b0e6" stroke-width="0.45" fill="none"/><path d="M220.6 90.8L225.2 90.8M222.9 88.5L222.9 93.1" stroke="#86b0e6" stroke-width="0.45" fill="none"/><path d="M226.7 90.1L231.3 90.1M229.0 87.8L229.0 92.4" stroke="#86b0e6" stroke-width="0.45" fill="none"/><path d="M232.8 89.5L237.4 89.5M235.1 87.2L235.1 91.8" stroke="#86b0e6" stroke-width="0.45" fill="none"/><path d="M238.9 88.8L243.5 88.8M241.2 86.5L241.2 91.1" stroke="#86b0e6" stroke-width="0.45" fill="none"/><path d="M245.1 88.1L249.7 88.1M247.4 85.8L247.4 90.4" stroke="#86b0e6" stroke-width="0.45" fill="none"/><path d="M251.2 87.5L255.8 87.5M253.5 85.2L253.5 89.8" stroke="#86b0e6" stroke-width="0.45" fill="none"/><path d="M257.3 86.8L261.9 86.8M259.6 84.5L259.6 89.1" stroke="#86b0e6" stroke-width="0.45" fill="none"/><path d="M263.4 86.1L268.0 86.1M265.7 83.8L265.7 88.4" stroke="#86b0e6" stroke-width="0.45" fill="none"/><path d="M269.6 85.4L274.2 85.4M271.9 83.1L271.9 87.7" stroke="#86b0e6" stroke-width="0.45" fill="none"/><path d="M275.7 84.8L280.3 84.8M278.0 82.5L278.0 87.1" stroke="#86b0e6" stroke-width="0.45" fill="none"/><path d="M281.8 84.1L286.4 84.1M284.1 81.8L284.1 86.4" stroke="#86b0e6" stroke-width="0.45" fill="none"/><path d="M287.9 83.4L292.5 83.4M290.2 81.1L290.2 85.7" stroke="#86b0e6" stroke-width="0.45" fill="none"/><path d="M294.1 82.7L298.7 82.7M296.4 80.4L296.4 85.0" stroke="#86b0e6" stroke-width="0.45" fill="none"/><path d="M300.2 82.0L304.8 82.0M302.5 79.7L302.5 84.3" stroke="#86b0e6" stroke-width="0.45" fill="none"/><path d="M306.3 81.3L310.9 81.3M308.6 79.0L308.6 83.6" stroke="#86b0e6" stroke-width="0.45" fill="none"/><path d="M312.4 80.6L317.0 80.6M314.7 78.3L314.7 82.9" stroke="#86b0e6" stroke-width="0.45" fill="none"/><path d="M318.6 79.9L323.2 79.9M320.9 77.6L320.9 82.2" stroke="#86b0e6" stroke-width="0.45" fill="none"/><path d="M324.7 79.2L329.3 79.2M327.0 76.9L327.0 81.5" stroke="#86b0e6" stroke-width="0.45" fill="none"/><path d="M330.8 78.5L335.4 78.5M333.1 76.2L333.1 80.8" stroke="#86b0e6" stroke-width="0.45" fill="none"/><path d="M336.9 77.8L341.5 77.8M339.2 75.5L339.2 80.1" stroke="#86b0e6" stroke-width="0.45" fill="none"/><path d="M343.1 77.1L347.7 77.1M345.4 74.8L345.4 79.4" stroke="#86b0e6" stroke-width="0.45" fill="none"/><path d="M349.2 76.4L353.8 76.4M351.5 74.1L351.5 78.7" stroke="#86b0e6" stroke-width="0.45" fill="none"/><polyline points="51.3,103.9 57.5,103.0 63.6,102.2 69.7,101.3 75.8,100.4 82.0,99.5 88.1,98.6 94.2,97.7 100.3,96.8 106.5,95.9 112.6,94.9 118.7,94.0 124.8,93.1 131.0,92.1 137.1,91.2 143.2,90.2 149.3,89.2 155.5,88.3 161.6,87.3 167.7,86.3 173.8,85.3 180.0,84.3 186.1,83.3 192.2,82.3 198.4,81.3 204.5,80.3 210.6,79.3 216.7,78.2 222.9,77.2 229.0,76.1 235.1,75.1 241.2,74.0 247.4,73.0 253.5,71.9 259.6,70.8 265.7,69.7 271.9,68.6 278.0,67.5 284.1,66.4 290.2,65.3 296.4,64.2 302.5,63.1 308.6,62.0 314.7,60.8 320.9,59.7 327.0,58.5 333.1,57.4 339.2,56.2 345.4,55.1 351.5,53.9" fill="none" stroke="#f6a98c" stroke-width="1.2" stroke-linejoin="round"/><polyline points="51.3,99.4 57.5,98.3 63.6,97.2 69.7,96.1 75.8,95.0 82.0,93.9 88.1,92.7 94.2,91.6 100.3,90.4 106.5,89.2 112.6,88.0 118.7,86.8 124.8,85.5 131.0,84.3 137.1,83.1 143.2,81.8 149.3,80.5 155.5,79.2 161.6,77.9 167.7,76.6 173.8,75.3 180.0,73.9 186.1,72.6 192.2,71.2 198.4,69.8 204.5,68.4 210.6,67.0 216.7,65.6 222.9,64.1 229.0,62.7 235.1,61.2 241.2,59.7 247.4,58.2 253.5,56.7 259.6,55.2 265.7,53.7 271.9,52.2 278.0,50.6 284.1,49.0 290.2,47.4 296.4,45.9 302.5,44.2 308.6,42.6 314.7,41.0 320.9,39.3 327.0,37.7 333.1,36.0 339.2,34.3 345.4,32.6 351.5,30.9" fill="none" stroke="#fb0f0f" stroke-width="1.45" stroke-linejoin="round"/>
<text x="36.3" y="9.3" text-anchor="end" class="tk">50</text><text x="36.3" y="32.2" text-anchor="end" class="tk">40</text><text x="36.3" y="55.2" text-anchor="end" class="tk">30</text><text x="36.3" y="78.1" text-anchor="end" class="tk">20</text><text x="36.3" y="101.0" text-anchor="end" class="tk">10</text><text x="36.3" y="124.0" text-anchor="end" class="tk">0</text><text x="36.3" y="146.9" text-anchor="end" class="tk">-10</text><text x="36.3" y="169.8" text-anchor="end" class="tk">-20</text><text x="36.3" y="192.7" text-anchor="end" class="tk">-30</text><text x="36.3" y="215.7" text-anchor="end" class="tk">-40</text><text x="45.2" y="229.8" text-anchor="middle" class="tk">0</text><text x="106.5" y="229.8" text-anchor="middle" class="tk">0.1</text><text x="167.7" y="229.8" text-anchor="middle" class="tk">0.2</text><text x="229.0" y="229.8" text-anchor="middle" class="tk">0.3</text><text x="290.2" y="229.8" text-anchor="middle" class="tk">0.4</text><text x="351.5" y="229.8" text-anchor="middle" class="tk">0.5</text><text x="198.1" y="249.6" text-anchor="middle" class="ti">Concentration (m Mol/L)</text><text transform="translate(10.2 107.4) rotate(-90)" text-anchor="middle" class="ti">Relative % error</text>
<path d="M67 9.7H82.3" stroke="#2f76b9" stroke-width="1.7"/><path d="M72.5 9.7L74.7 7.5L76.9 9.7L74.7 11.9Z" fill="#2f76b9" fill-opacity="0.45"/><text x="84.5" y="12.7" class="lg">B1rel=0.8</text><rect x="157.6" y="8.2" width="3.5" height="3.5" fill="#fff" stroke="#e06c25" stroke-width="0.55" stroke-opacity="0.85"/><path d="M151.7 9.7H167" stroke="#e06c25" stroke-width="1.65"/><text x="168.9" y="12.7" class="lg">B1rel=_0.85</text><path d="M242.0 12.3L244.3 7.7L246.7 12.3Z" fill="#fff" stroke="#a6a6a6" stroke-width="0.55" stroke-opacity="0.85"/><path d="M236.7 9.7H252" stroke="#a6a6a6" stroke-width="1.4"/><text x="253.7" y="12.7" class="lg">B1rel=0.9</text><path d="M67 23.1H82.3" stroke="#f0b30f" stroke-width="1.6"/><path d="M72.6 21.0L76.8 25.2M72.6 25.2L76.8 21.0" stroke="#f0b30f" stroke-width="0.65" fill="none"/><text x="84.5" y="26.1" class="lg">B1rel=0.95</text><path d="M151.7 23.1H167" stroke="#1a1a1a" stroke-width="1.4"/><path d="M157.2 20.9L161.5 25.3M157.2 25.3L161.5 20.9M159.3 20.9L159.3 25.3" stroke="#1a1a1a" stroke-width="0.65" fill="none"/><text x="168.9" y="26.1" class="lg">B1rel=1.0</text><path d="M236.7 23.1H252" stroke="#4f9a2f" stroke-width="1.6"/><circle cx="244.3" cy="23.1" r="1.7" fill="#4f9a2f"/><text x="253.7" y="26.1" class="lg">B1rel=1.5</text><path d="M67 36.5H82.3" stroke="#86b0e6" stroke-width="1.5"/><path d="M72.4 36.5L77.0 36.5M74.7 34.2L74.7 38.8" stroke="#86b0e6" stroke-width="0.45" fill="none"/><text x="84.5" y="39.5" class="lg">B1rel=1.0</text><path d="M151.7 36.5H167" stroke="#f6a98c" stroke-width="1.2"/><text x="168.9" y="39.5" class="lg">B1rel=1.15</text><path d="M236.7 36.5H252" stroke="#fb0f0f" stroke-width="1.45"/><text x="253.7" y="39.5" class="lg">B1rel=1.20</text>
</svg>
</body></html>
